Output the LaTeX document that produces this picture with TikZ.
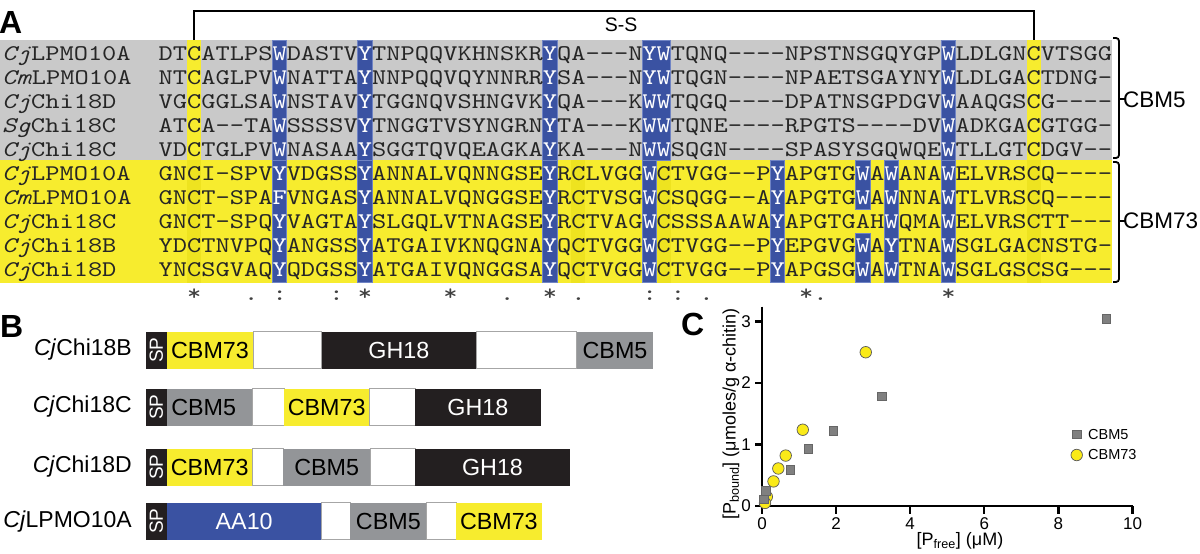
\documentclass[tikz,border=0pt]{standalone}
\usepackage{fontspec}
\setmainfont{Liberation Sans}
\newfontfamily\seqfont{lmmono10-regular}[Extension=.otf,ItalicFont=lmmono10-italic,FakeStretch=1.21]
\usetikzlibrary{positioning}

\definecolor{rowgray}{RGB}{201,201,201}
\definecolor{rowyellow}{RGB}{247,236,46}
\definecolor{cysyellow}{RGB}{238,227,32}
\definecolor{hlblue}{RGB}{58,82,162}
\definecolor{hledge}{RGB}{112,132,196}
\definecolor{ghblack}{RGB}{35,31,32}
\definecolor{cbmgray}{RGB}{147,149,152}
\definecolor{ptgray}{RGB}{128,128,128}
\definecolor{ptyellow}{RGB}{250,234,24}

\newcommand{\hl}[1]{\textcolor{white}{#1}}
\newcommand{\colx}[1]{158.5+(#1-1)*14.23}

\tikzset{
  seq/.style={font=\seqfont\fontsize{22.4}{24}\selectfont,text=black!85,inner sep=0pt,anchor=base west},
  hlbox/.style={fill=hlblue,draw=hledge,line width=0.6pt},
  brk/.style={line width=1.8pt,rounded corners=3pt},
  brklabel/.style={font=\fontsize{22.5}{24}\selectfont,inner sep=0pt,anchor=west},
  panel/.style={font=\fontsize{32}{34}\selectfont\bfseries,inner sep=0pt,anchor=base west},
  dom/.style={minimum height=37pt,inner sep=0pt,outer sep=0pt,anchor=west,font=\fontsize{23.3}{24}\selectfont},
  spbox/.style={dom,fill=ghblack,minimum width=20.7pt},
  sptext/.style={rotate=90,text=white,inner sep=0pt,font=\fontsize{19}{20}\selectfont},
  link/.style={dom,fill=white,draw=black!35,line width=0.8pt},
  protname/.style={inner sep=0pt,anchor=east,font=\fontsize{23}{24}\selectfont},
  axis/.style={line width=2.2pt},
  tick/.style={inner sep=3pt,font=\fontsize{17}{18}\selectfont},
  axlabel/.style={inner sep=0pt,font=\fontsize{18}{20}\selectfont},
  sqmark/.style={draw=black!60,fill=ptgray,line width=0.7pt,minimum size=8.5pt,inner sep=0pt},
  circmark/.style={circle,draw=black!65,fill=ptyellow,line width=0.7pt,minimum size=11.5pt,inner sep=0pt},
  legtext/.style={inner sep=0pt,anchor=west,font=\fontsize{14.5}{16}\selectfont}
}

\begin{document}
\begin{tikzpicture}[x=1pt,y=-1pt]
\useasboundingbox[fill=white] (0,0) rectangle (1200,554);
% Panel A: row backgrounds
\fill[rowgray] (0,40) rectangle (1112,160);
\fill[rowyellow] (0,160) rectangle (1112,282.5);
% cysteine columns
\foreach \c in {3,62}
  \fill[rowyellow] ({\colx{\c}},40) rectangle +(14.23,120);
\foreach \c in {3,30,36,62}
  \fill[cysyellow] ({\colx{\c}},160) rectangle +(14.23,122.5);
% aromatic columns, CBM5 block
\foreach \c/\w in {9/1,15/1,28/1,35/2,56/1}
  \filldraw[hlbox] ({\colx{\c}},40) rectangle +({\w*14.23},120);
% aromatic columns, CBM73 block
\foreach \c in {9,15,28,35,44,52,56}
  \filldraw[hlbox] ({\colx{\c}},160) rectangle +(14.23,122.5);
\filldraw[hlbox] ({\colx{50}},160) rectangle +(14.23,49);
\filldraw[hlbox] ({\colx{50}},233.5) rectangle +(14.23,49);
% Sequence names
\node[seq] (n1) at (2,60) {\textit{Cj}LPMO10A};
\node[seq] (n2) at (2,84) {\textit{Cm}LPMO10A};
\node[seq] (n3) at (2,108) {\textit{Cj}Chi18D};
\node[seq] (n4) at (2,132) {\textit{Sg}Chi18C};
\node[seq] (n5) at (2,156) {\textit{Cj}Chi18C};
\node[seq] (n6) at (2,180) {\textit{Cj}LPMO10A};
\node[seq] (n7) at (2,204) {\textit{Cm}LPMO10A};
\node[seq] (n8) at (2,228) {\textit{Cj}Chi18C};
\node[seq] (n9) at (2,252) {\textit{Cj}Chi18B};
\node[seq] (n10) at (2,276) {\textit{Cj}Chi18D};
% Sequences
\node[seq] (s1) at (158.5,60) {DTCATLPS\hl{W}DASTV\hl{Y}TNPQQVKHNSKR\hl{Y}QA---N\hl{YW}TQNQ----NPSTNSGQYGP\hl{W}LDLGNCVTSGG};
\node[seq] (s2) at (158.5,84) {NTCAGLPV\hl{W}NATTA\hl{Y}NNPQQVQYNNRR\hl{Y}SA---N\hl{YW}TQGN----NPAETSGAYNY\hl{W}LDLGACTDNG-};
\node[seq] (s3) at (158.5,108) {VGCGGLSA\hl{W}NSTAV\hl{Y}TGGNQVSHNGVK\hl{Y}QA---K\hl{WW}TQGQ----DPATNSGPDGV\hl{W}AAQGSCG----};
\node[seq] (s4) at (158.5,132) {ATCA--TA\hl{W}SSSSV\hl{Y}TNGGTVSYNGRN\hl{Y}TA---K\hl{WW}TQNE----RPGTS----DV\hl{W}ADKGACGTGG-};
\node[seq] (s5) at (158.5,156) {VDCTGLPV\hl{W}NASAA\hl{Y}SGGTQVQEAGKA\hl{Y}KA---N\hl{WW}SQGN----SPASYSGQWQE\hl{W}TLLGTCDGV--};
\node[seq] (s6) at (158.5,180) {GNCI-SPV\hl{Y}VDGSS\hl{Y}ANNALVQNNGSE\hl{Y}RCLVGG\hl{W}CTVGG--P\hl{Y}APGTG\hl{W}A\hl{W}ANA\hl{W}ELVRSCQ----};
\node[seq] (s7) at (158.5,204) {GNCT-SPA\hl{F}VNGAS\hl{Y}ANNALVQNGGSE\hl{Y}RCTVSG\hl{W}CSQGG--A\hl{Y}APGTG\hl{W}A\hl{W}NNA\hl{W}TLVRSCQ----};
\node[seq] (s8) at (158.5,228) {GNCT-SPQ\hl{Y}VAGTA\hl{Y}SLGQLVTNAGSE\hl{Y}RCTVAG\hl{W}CSSSAAWA\hl{Y}APGTGAH\hl{W}QMA\hl{W}ELVRSCTT---};
\node[seq] (s9) at (158.5,252) {YDCTNVPQ\hl{Y}ANGSS\hl{Y}ATGAIVKNQGNA\hl{Y}QCTVGG\hl{W}CTVGG--P\hl{Y}EPGVG\hl{W}A\hl{Y}TNA\hl{W}SGLGACNSTG-};
\node[seq] (s10) at (158.5,276) {YNCSGVAQ\hl{Y}QDGSS\hl{Y}ATGAIVQNGGSA\hl{Y}QCTVGG\hl{W}CTVGG--P\hl{Y}APGSG\hl{W}A\hl{W}TNA\hl{W}SGLGSCSG---};
% Consensus line
\foreach \c/\sym in {3/*,7/.,9/:,13/:,15/*,21/*,25/.,28/*,30/.,35/:,37/:,39/.,46/*,47/.,56/*}
  \node[seq,text=black!75] (cons\c) at ({\colx{\c}},300) {\sym};
% Disulfide bridge
\coordinate (ssl) at ({\colx{3}+7.1},40);
\coordinate (ssr) at ({\colx{62}+7.1},40);
\draw[line width=1.8pt] (ssl) -- ++(0,-29) -| (ssr);
\node[inner sep=0pt,font=\fontsize{19.5}{21}\selectfont] (ss) at (621,25) {S-S};
% Module brackets
\draw[brk] (1113,38) -- (1119,38) -- (1119,158) -- (1113,158);
\draw[brk] (1119,99) -- (1125,99);
\node[brklabel] (lcbm5) at (1123,100) {CBM5};
\draw[brk] (1113,162) -- (1119,162) -- (1119,282) -- (1113,282);
\draw[brk] (1119,221) -- (1125,221);
\node[brklabel] (lcbm73) at (1123,221) {CBM73};
\node[panel] (pa) at (-1,33) {A};
% Panel B: domain maps
\node[panel] (pb) at (0,337) {B};
% Row 1
\node[spbox] (b1sp) at (146,350) {};
\node[sptext] (b1spt) at (b1sp) {SP};
\node[dom,fill=rowyellow,minimum width=86.6pt,right=0pt of b1sp] (b1cbm73) {CBM73};
\node[link,minimum width=68.4pt,right=0pt of b1cbm73] (b1l1) {};
\node[dom,fill=ghblack,text=white,minimum width=154.3pt,right=0pt of b1l1] (b1gh18) {GH18};
\node[link,minimum width=100.7pt,right=0pt of b1gh18] (b1l2) {};
\node[dom,fill=cbmgray,minimum width=76.6pt,right=0pt of b1l2] (b1cbm5) {CBM5};
\node[protname,left=14pt of b1sp] (b1name) {\textit{Cj}Chi18B};
% Row 2
\node[spbox] (b2sp) at (146,407) {};
\node[sptext] (b2spt) at (b2sp) {SP};
\node[dom,fill=cbmgray,minimum width=86pt,right=0pt of b2sp] (b2cbm5) {CBM5\hspace*{12pt}};
\node[link,minimum width=31.3pt,right=0pt of b2cbm5] (b2l1) {};
\node[dom,fill=rowyellow,minimum width=85.3pt,right=0pt of b2l1] (b2cbm73) {CBM73};
\node[link,minimum width=45.7pt,right=0pt of b2cbm73] (b2l2) {};
\node[dom,fill=ghblack,text=white,minimum width=125.7pt,right=0pt of b2l2] (b2gh18) {GH18};
\node[protname,left=14pt of b2sp] (b2name) {\textit{Cj}Chi18C};
% Row 3
\node[spbox] (b3sp) at (146,467) {};
\node[sptext] (b3spt) at (b3sp) {SP};
\node[dom,fill=rowyellow,minimum width=86pt,right=0pt of b3sp] (b3cbm73) {CBM73};
\node[link,minimum width=30.6pt,right=0pt of b3cbm73] (b3l1) {};
\node[dom,fill=cbmgray,minimum width=86.7pt,right=0pt of b3l1] (b3cbm5) {CBM5};
\node[link,minimum width=45pt,right=0pt of b3cbm5] (b3l2) {};
\node[dom,fill=ghblack,text=white,minimum width=155pt,right=0pt of b3l2] (b3gh18) {GH18};
\node[protname,left=14pt of b3sp] (b3name) {\textit{Cj}Chi18D};
% Row 4
\node[spbox] (b4sp) at (146,521.3) {};
\node[sptext] (b4spt) at (b4sp) {SP};
\node[dom,fill=hlblue,text=white,minimum width=155pt,right=0pt of b4sp] (b4aa10) {AA10};
\node[link,minimum width=28.3pt,right=0pt of b4aa10] (b4l1) {};
\node[dom,fill=cbmgray,minimum width=76.7pt,right=0pt of b4l1] (b4cbm5) {CBM5};
\node[link,minimum width=29.3pt,right=0pt of b4cbm5] (b4l2) {};
\node[dom,fill=rowyellow,minimum width=85.7pt,right=0pt of b4l2] (b4cbm73) {CBM73};
\node[protname,left=14pt of b4sp] (b4name) {\textit{Cj}LPMO10A};
% Panel C: binding isotherm
\node[panel] (pc) at (681,335) {C};
\begin{scope}[shift={(762,506)},x=37.05pt,y=61.5pt]
\draw[axis] (0,3.24) -- (0,0) -- (10,0);
\foreach \t in {0,2,...,10}
  \draw[axis] (\t,0) -- ++(0,-8pt) node[tick,below] (xt\t) {\t};
\foreach \t in {0,...,3}
  \draw[axis] (0,\t) -- ++(-7pt,0) node[tick,left] (yt\t) {\t};
% CBM73
\foreach \px/\py [count=\i] in {2.80/2.50,1.10/1.24,0.64/0.82,0.44/0.61,0.31/0.40,0.13/0.15,0.08/0.05}
  \node[circmark] (cp\i) at (\px,\py) {};
% CBM5
\foreach \px/\py [count=\i] in {9.30/3.04,3.23/1.78,1.92/1.22,1.25/0.93,0.76/0.585,0.10/0.25,0.05/0.11}
  \node[sqmark] (sp\i) at (\px,\py) {};
\end{scope}
\node[axlabel,rotate=90] (ylab) at (731,414) {[P\textsubscript{bound}] (μmoles/g α-chitin)};
\node[axlabel] (xlab) at (960,541) {[P\textsubscript{free}] (μM)};
% Legend
\node[sqmark] (lsq) at (1076.7,434.3) {};
\node[legtext] (lsqt) at (1088,434.3) {CBM5};
\node[circmark] (lci) at (1076.7,455) {};
\node[legtext] (lcit) at (1088,455) {CBM73};
\end{tikzpicture}
\end{document}
